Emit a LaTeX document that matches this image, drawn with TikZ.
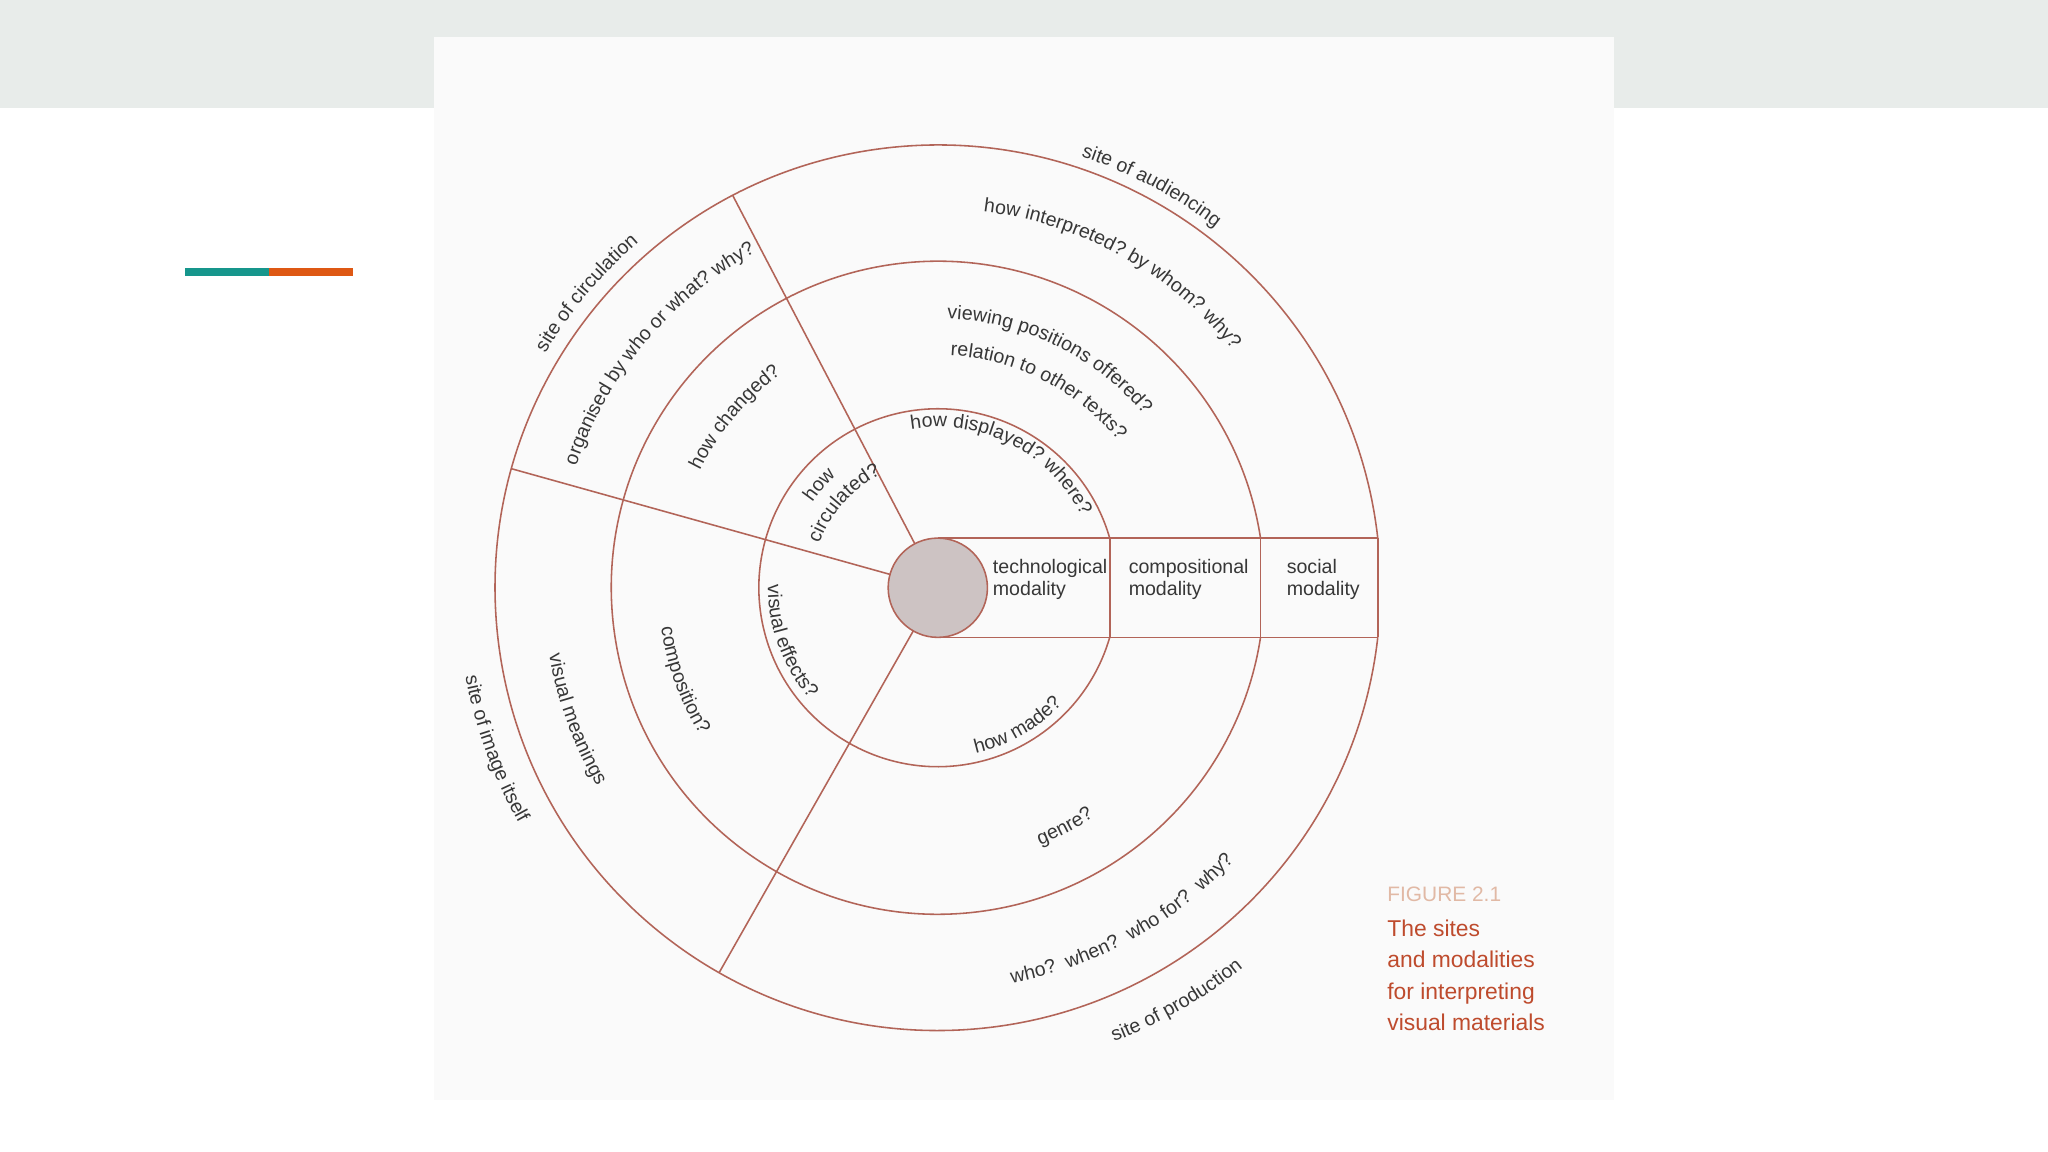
\documentclass[tikz,border=0pt]{standalone}
\usepackage{fontspec}
\setmainfont{Liberation Sans}
\usetikzlibrary{decorations.text,calc}
\definecolor{ln}{RGB}{178,100,88}
\definecolor{txt}{RGB}{55,55,55}
\definecolor{band}{RGB}{232,236,234}
\definecolor{teal}{RGB}{22,150,140}
\definecolor{orng}{RGB}{222,88,20}
\definecolor{cap}{RGB}{190,75,45}
\definecolor{capl}{RGB}{225,185,165}
\newcommand{\tf}{\fontsize{15}{17}\selectfont\color{txt}}
\newcommand{\arctext}[4]{\path[decorate,decoration={text along path,text align=center,text={|\tf|#4}}] ([shift={(#1:#3)}]C) arc[start angle=#1,end angle=#2,radius=#3];}
\begin{document}
\begin{tikzpicture}[x=1pt,y=1pt,
  ring/.style={draw=ln,line width=1.2pt},
  lbl/.style={font=\tf,align=left,anchor=north west,inner sep=0pt}]
\useasboundingbox (0,0) rectangle (1568,882);
\fill[white] (0,0) rectangle (1568,882);
\fill[band] (0,799) rectangle (1568,882);
\fill[gray!4] (332,40) rectangle (1236,854);
\fill[teal] (142,671) rectangle (206,677);
\fill[orng] (206,671) rectangle (270,677);
\coordinate (C) at (718,432);
\foreach \r in {137,250,339}{
  \pgfmathsetmacro{\a}{asin(38/\r)}
  \draw[ring] ([shift={(\a:\r)}]C) arc[start angle=\a,end angle=360-\a,radius=\r];
  \pgfmathsetmacro{\xx}{\r*cos(\a)}
  \draw[ring] ($(C)+(\xx,38)$) -- ($(C)+(\xx,-38)$);
}
\draw[ring] (C) ++(0,38) -- ($(C)+(337,38)$);
\draw[ring] (C) ++(0,-38) -- ($(C)+(337,-38)$);
\node[circle,draw=ln,fill={rgb,255:red,205;green,195;blue,195},line width=1.2pt,minimum size=76pt,inner sep=0pt] (hub) at (C) {};
\foreach \t in {117.6,164.4,240.4}{
  \draw[ring] ([shift={(\t:38)}]C) -- ([shift={(\t:339)}]C);
}
\node[lbl] (t1) at (760,454) {technological\\modality};
\node[lbl] (t2) at (864,454) {compositional\\modality};
\node[lbl] (t3) at (985,454) {social\\modality};
\arctext{122}{2}{348}{site of audiencing}
\arctext{121}{1}{290}{how interpreted? by whom? why?}
\arctext{124}{4}{206}{viewing positions offered?}
\arctext{123}{3}{178}{relation to other texts?}
\arctext{123}{3}{123}{how displayed? where?}
\arctext{200}{80}{350}{site of circulation}
\arctext{200}{80}{292}{organised by who or what? why?}
\arctext{200}{80}{203}{how changed?}
\arctext{198}{80}{116}{how}
\arctext{198}{78}{97}{circulated?}
\arctext{140}{260}{368}{site of image itself}
\arctext{140}{260}{302}{visual meanings}
\arctext{140}{260}{214}{composition?}
\arctext{140}{260}{130}{visual effects?}
\arctext{-120}{0}{130}{how made?}
\arctext{-122}{-2}{212}{genre?}
\arctext{-121}{-1}{308}{who?\ \ when?\ \ who for?\ \ why?}
\arctext{-120}{0}{373}{site of production}
\node[font=\fontsize{16}{24}\selectfont,text=capl,anchor=north west,inner sep=0pt] (fig) at (1062,203) {FIGURE 2.1};
\node[font=\fontsize{17.5}{24}\selectfont,text=cap,align=left,anchor=north west,inner sep=0pt] (capt) at (1062,178) {The sites\\and modalities\\for interpreting\\visual materials};
\end{tikzpicture}
\end{document}
